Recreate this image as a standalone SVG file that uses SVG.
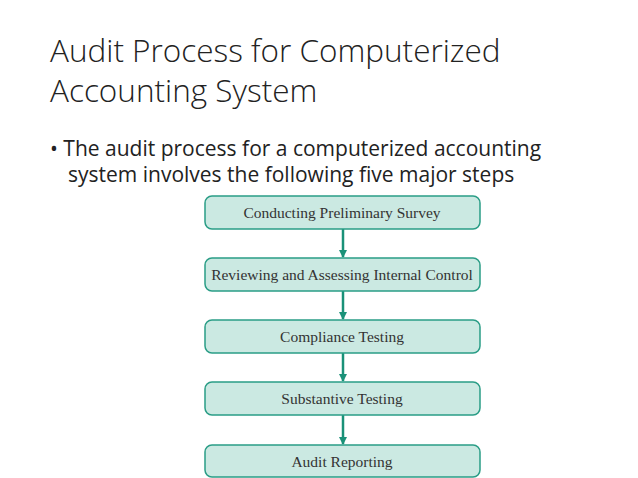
<svg xmlns="http://www.w3.org/2000/svg" width="638" height="478" viewBox="0 0 638 478">
<style>
.t{font-family:"Open Sans","Liberation Sans",sans-serif;fill:#222}
.b rect{fill:#cbe9e2;stroke:#2a9d86;stroke-width:1.5}
.b text{font-family:"Liberation Serif",serif;font-size:15.5px;fill:#333;text-anchor:middle}
.c line{stroke:#1a9178;stroke-width:2.5}
</style>
<defs><marker id="a" markerWidth="8" markerHeight="8" refX="7" refY="4" orient="auto" markerUnits="userSpaceOnUse"><path d="M0,0 L8,4 L0,8 Z" fill="#1a9178"/></marker></defs>
<rect width="638" height="478" fill="#fff"/>
<text class="t" x="50" y="62" font-size="31.5" font-weight="300">Audit Process for Computerized</text>
<text class="t" x="50" y="102" font-size="31.5" font-weight="300">Accounting System</text>
<text class="t" x="50" y="156" font-size="21">• The audit process for a computerized accounting</text>
<text class="t" x="68" y="182" font-size="21">system involves the following five major steps</text>
<g class="c">
<line x1="343" y1="229" x2="343" y2="257" marker-end="url(#a)"/>
<line x1="343" y1="291" x2="343" y2="319" marker-end="url(#a)"/>
<line x1="343" y1="353" x2="343" y2="381" marker-end="url(#a)"/>
<line x1="343" y1="415" x2="343" y2="444" marker-end="url(#a)"/>
</g>
<g id="n1" class="b"><rect x="205" y="196" width="275" height="33" rx="7"/><text x="342" y="218">Conducting Preliminary Survey</text></g>
<g id="n2" class="b"><rect x="205" y="258" width="275" height="33" rx="7"/><text x="342" y="280">Reviewing and Assessing Internal Control</text></g>
<g id="n3" class="b"><rect x="205" y="320" width="275" height="33" rx="7"/><text x="342" y="342">Compliance Testing</text></g>
<g id="n4" class="b"><rect x="205" y="382" width="275" height="33" rx="7"/><text x="342" y="404">Substantive Testing</text></g>
<g id="n5" class="b"><rect x="205" y="445" width="275" height="32" rx="7"/><text x="342" y="467">Audit Reporting</text></g>
</svg>
